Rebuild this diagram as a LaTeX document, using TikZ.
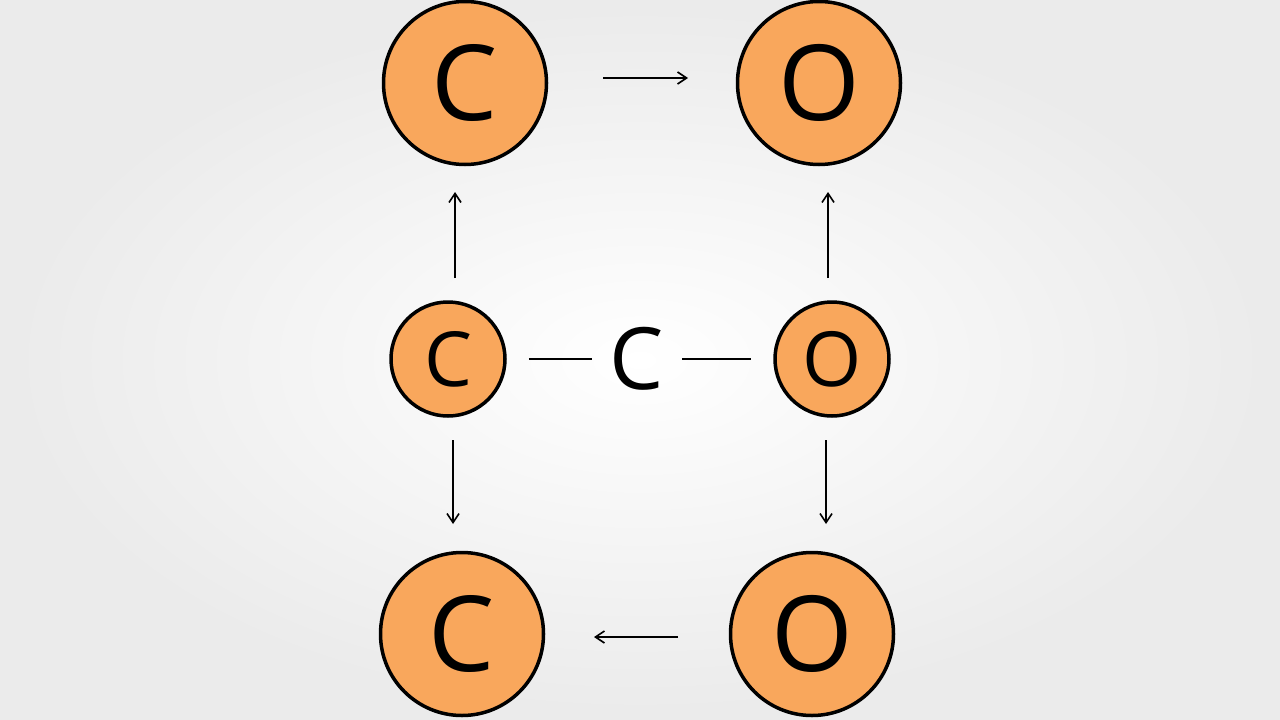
\documentclass[tikz,border=0pt]{standalone}
\usepackage{fontspec}
\setmainfont{Open Sans}
\usetikzlibrary{arrows.meta}
\definecolor{atomfill}{HTML}{F9A75C}
\begin{document}
\begin{tikzpicture}[x=1pt,y=-1pt,
  big/.style={circle,draw=black,line width=3.5pt,fill=atomfill,minimum size=163pt,inner sep=0pt,font=\fontsize{105}{105}\selectfont},
  small/.style={circle,draw=black,line width=3.5pt,fill=atomfill,minimum size=114pt,inner sep=0pt,font=\fontsize{76}{76}\selectfont},
  arr/.style={-{Straight Barb[length=9pt,width=12pt]},line width=1.6pt},
  bond/.style={line width=2.2pt}]
\shade[inner color=white,outer color=black!8] (0,0) rectangle (1280,720);
\useasboundingbox (0,0) rectangle (1280,720);
\node[big] (c1) at (465,83) {C};
\node[big] (o1) at (819,83) {O};
\node[small] (c2) at (448,359) {C};
\node[small] (o2) at (832,359) {O};
\node[big] (c3) at (462,634) {C};
\node[big] (o3) at (812,634) {O};
\node[font=\fontsize{86}{86}\selectfont,inner sep=0pt] (cm) at (637,359) {C};
\coordinate (a1s) at (603,78); \coordinate (a1e) at (688,78);
\coordinate (a2s) at (455,278); \coordinate (a2e) at (455,192);
\coordinate (a3s) at (828,278); \coordinate (a3e) at (828,192);
\coordinate (a4s) at (453,440); \coordinate (a4e) at (453,524);
\coordinate (a5s) at (826,440); \coordinate (a5e) at (826,524);
\coordinate (a6s) at (678,637); \coordinate (a6e) at (594,637);
\draw[arr] (a1s) -- (a1e);
\draw[arr] (a2s) -- (a2e);
\draw[arr] (a3s) -- (a3e);
\draw[arr] (a4s) -- (a4e);
\draw[arr] (a5s) -- (a5e);
\draw[arr] (a6s) -- (a6e);
\draw[bond] ([xshift=22pt]c2.east) -- ([xshift=-18pt]cm.west);
\draw[bond] ([xshift=18pt]cm.east) -- ([xshift=-22pt]o2.west);
\end{tikzpicture}
\end{document}
